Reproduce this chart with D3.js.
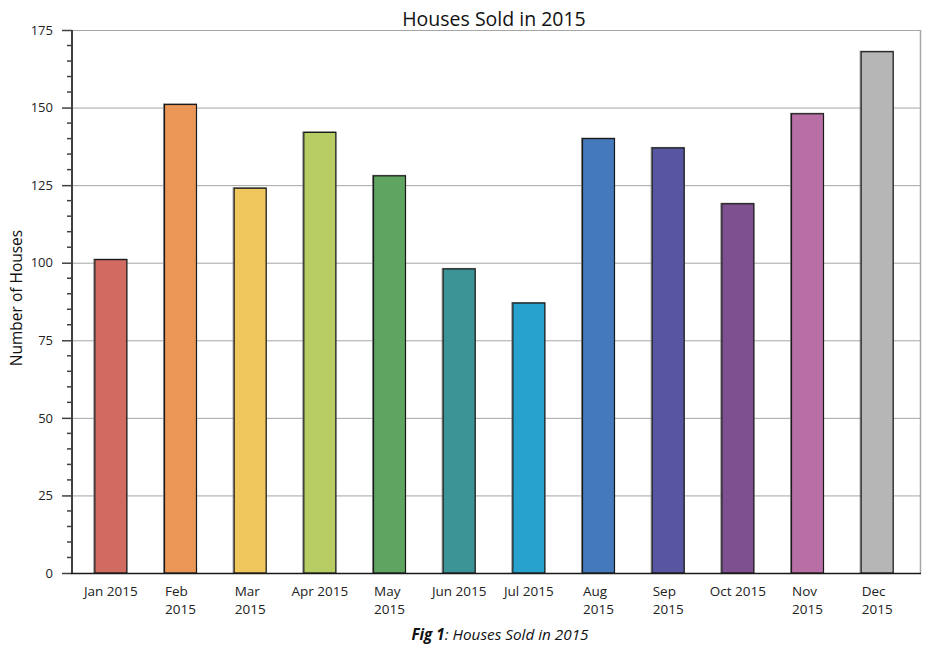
<!DOCTYPE html>
<html><head><meta charset="utf-8">
<script src="https://cdn.jsdelivr.net/npm/d3@7"></script>
<style>body{margin:0;background:#fff;} text{font-family:"Open Sans","DejaVu Sans",sans-serif;}</style>
</head><body>
<svg id="c" width="931" height="649"></svg>
<script>
const categories = ["Jan 2015","Feb 2015","Mar 2015","Apr 2015","May 2015","Jun 2015","Jul 2015","Aug 2015","Sep 2015","Oct 2015","Nov 2015","Dec 2015"];
const tickLabels = [["Jan 2015"],["Feb","2015"],["Mar","2015"],["Apr 2015"],["May","2015"],["Jun 2015"],["Jul 2015"],["Aug","2015"],["Sep","2015"],["Oct 2015"],["Nov","2015"],["Dec","2015"]];
const values = [101,151,124,142,128,98,87,140,137,119,148,168];
const colors = ["#d16b61","#e99657","#efc75d","#b7cc63","#60a462","#3c9496","#27a2cd","#4479bc","#5856a3","#7e508f","#b86fa6","#b5b6b5"];
const yTicks = [0,25,50,75,100,125,150,175];

const svg = d3.select("#c");
const L=72, R=920, T=30, B=573;
const x = d3.scaleBand().domain(categories).range([76,912]).paddingInner(0.54).paddingOuter(0.27);
const y = d3.scaleLinear().domain([0,175]).range([B,T]);

// gridlines
svg.append("g").selectAll("line").data(yTicks.filter(d=>d>0)).join("line")
  .attr("x1",L).attr("x2",R).attr("y1",d=>y(d)+0.5).attr("y2",d=>y(d)+0.5)
  .attr("stroke","#a6a6a6").attr("stroke-width",1);
svg.append("line").attr("x1",R+0.5).attr("x2",R+0.5).attr("y1",T).attr("y2",B)
  .attr("stroke","#a6a6a6").attr("stroke-width",1.5);

// bars
const bw = 32;
const bars = svg.append("g");
bars.selectAll("rect.sh").data(categories).join("rect")
  .attr("x",d=>x(d)+x.bandwidth()/2-bw/2-1).attr("y",(d,i)=>y(values[i])-0.5)
  .attr("width",bw+1).attr("height",(d,i)=>B-y(values[i]))
  .attr("fill","none").attr("stroke","#888").attr("stroke-width",1);
bars.selectAll("rect.b").data(categories).join("rect")
  .attr("x",d=>x(d)+x.bandwidth()/2-bw/2).attr("y",(d,i)=>y(values[i]))
  .attr("width",bw).attr("height",(d,i)=>B-y(values[i]))
  .attr("fill",(d,i)=>colors[i]).attr("stroke","#1a1a1a").attr("stroke-width",1.2);

// y axis
const yAxis = d3.axisLeft(y).tickValues(yTicks).tickSize(10).tickPadding(9);
const ga = svg.append("g").attr("transform",`translate(${L},0)`).call(yAxis);
ga.select(".domain").remove();
ga.selectAll(".tick line").attr("stroke","#404040").attr("stroke-width",1.5);
ga.selectAll(".tick text").attr("font-size",13).attr("fill","#222").attr("font-family","Open Sans, sans-serif");
// minor ticks
const minor = d3.range(0,176,5).filter(d=>d%25!==0);
svg.append("g").selectAll("line").data(minor).join("line")
  .attr("x1",L-5).attr("x2",L).attr("y1",d=>y(d)).attr("y2",d=>y(d))
  .attr("stroke","#404040").attr("stroke-width",1.5);
svg.append("line").attr("x1",L).attr("x2",L).attr("y1",T).attr("y2",B+1)
  .attr("stroke","#404040").attr("stroke-width",2);
// x axis line
svg.append("line").attr("x1",L-1).attr("x2",R+1).attr("y1",B+0.5).attr("y2",B+0.5)
  .attr("stroke","#1a1a1a").attr("stroke-width",1.5);

// x labels
const xl = svg.append("g");
categories.forEach((c,i)=>{
  const cx = x(c)+x.bandwidth()/2;
  const t = xl.append("text").attr("font-size",13.5).attr("fill","#222");
  const lines = tickLabels[i];
  lines.forEach((ln,j)=>t.append("tspan").attr("y",596+j*18).text(ln));
  let maxW = 0;
  t.selectAll("tspan").each(function(){maxW=Math.max(maxW,this.getComputedTextLength());});
  t.selectAll("tspan").attr("x",cx-maxW/2);
});

// title
svg.append("text").attr("x",494).attr("y",26).attr("text-anchor","middle")
  .attr("font-size",19.5).attr("fill","#111").text("Houses Sold in 2015");
// y label
svg.append("text").attr("transform","translate(22,298) rotate(-90)").attr("text-anchor","middle")
  .attr("font-size",15.5).attr("fill","#111").text("Number of Houses");
// caption
const cap = svg.append("text").attr("x",500).attr("y",640).attr("text-anchor","middle")
  .attr("font-size",15.3).attr("font-style","italic").attr("fill","#111");
cap.append("tspan").attr("font-weight","bold").text("Fig 1");
cap.append("tspan").text(": Houses Sold in 2015");
</script>
</body></html>
